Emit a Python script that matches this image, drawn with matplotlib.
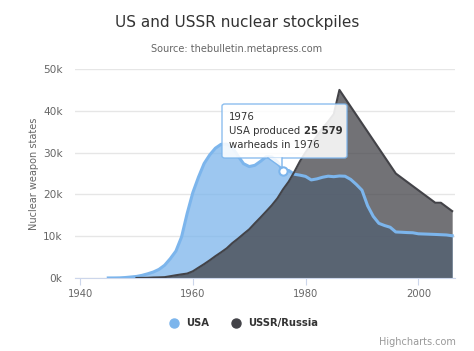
import numpy as np
import matplotlib
matplotlib.use("Agg")
import matplotlib.pyplot as plt
from matplotlib.lines import Line2D
from matplotlib.patches import FancyBboxPatch, Polygon

start_year = 1940
usa = [None, None, None, None, None, 6, 11, 32, 110, 235, 369, 640,
       1005, 1436, 2063, 3057, 4618, 6444, 9822, 15468, 20434, 24126,
       27387, 29459, 31056, 31982, 32040, 31233, 29224, 27342, 26662,
       26956, 27912, 28999, 28965, 27826, 25579, 25722, 24826, 24605,
       24304, 23464, 23708, 24099, 24357, 24237, 24401, 24344, 23586,
       22380, 21004, 17287, 14747, 13076, 12555, 12144, 11009, 10950,
       10871, 10824, 10577, 10527, 10475, 10421, 10358, 10295, 10104]
ussr = [None, None, None, None, None, None, None, None, None, None,
        5, 25, 50, 120, 150, 200, 426, 660, 869, 1060, 1605, 2471, 3322,
        4238, 5221, 6129, 7089, 8339, 9399, 10538, 11643, 13092, 14478,
        15915, 17385, 19055, 21205, 23044, 25393, 27935, 30062, 32049,
        33952, 35804, 37431, 39197, 45000, 43000, 41000, 39000, 37000,
        35000, 33000, 31000, 29000, 27000, 25000, 24000, 23000, 22000,
        21000, 20000, 19000, 18000, 18000, 17000, 16000]
series_names = ["USA", "USSR/Russia"]
colors = ["#7cb5ec", "#434348"]
y_ticks = [0, 10000, 20000, 30000, 40000, 50000]
y_labels = ["0k", "10k", "20k", "30k", "40k", "50k"]
x_ticks = [1940, 1960, 1980, 2000]
hover_year = 1976

W, H = 474, 351
fig = plt.figure(figsize=(W / 100, H / 100), dpi=100)
L, R, T, B = 75, 455, 69, 278
ax = fig.add_axes([L / W, 1 - B / H, (R - L) / W, (B - T) / H])

for data, c, name in zip([usa, ussr], colors, series_names):
    idx = [i for i, v in enumerate(data) if v is not None]
    xs = np.array([start_year + i for i in idx])
    ys = np.array([data[i] for i in idx], dtype=float)
    ax.fill_between(xs, 0, ys, color=c, alpha=0.75, linewidth=0, zorder=2)
    lw = 2.2 if name == "USA" else 1.5
    ax.plot(xs, ys, color=c, linewidth=lw, zorder=3)

ax.set_xlim(1939.1, 2006.5)
ax.set_ylim(0, 50000)
ax.set_yticks(y_ticks)
ax.set_yticklabels(y_labels)
ax.set_xticks(x_ticks)
ax.grid(axis="y", color="#e6e6e6", linewidth=1, zorder=0)
for s in ["top", "right", "left"]:
    ax.spines[s].set_visible(False)
ax.spines["bottom"].set_color("#ccd6eb")
ax.tick_params(axis="y", length=0, labelsize=7.6, labelcolor="#666666", pad=9)
ax.tick_params(axis="x", length=5, color="#ccd6eb", labelsize=7.2, labelcolor="#666666", pad=3)
ax.set_ylabel("Nuclear weapon states", fontsize=7, color="#666666", labelpad=3)

# hover marker
hv = usa[hover_year - start_year]
ax.plot([hover_year], [hv], marker="o", markersize=6, markerfacecolor="white",
        markeredgecolor=colors[0], markeredgewidth=1.5, zorder=6, clip_on=False)

# tooltip (in figure pixel coordinates)
bx0, bx1, by0, by1 = 222, 347, 104, 158
def fx(px):
    return px / W
def fy(py):
    return 1 - py / H
box = FancyBboxPatch((fx(bx0), fy(by1)), fx(bx1) - fx(bx0), fy(by0) - fy(by1),
                     boxstyle="round,pad=0,rounding_size=0.006",
                     transform=fig.transFigure, facecolor="white", alpha=0.88,
                     edgecolor=colors[0], linewidth=1, zorder=10)
fig.add_artist(box)
tip = Polygon([(fx(268), fy(by1 - 0.5)), (fx(282), fy(by1 + 10)), (fx(282), fy(by1 - 0.5))],
              closed=True, transform=fig.transFigure, facecolor="white", alpha=0.88,
              edgecolor="none", zorder=11)
fig.add_artist(tip)
fig.add_artist(Line2D([fx(268), fx(282), fx(282)], [fy(by1), fy(by1 + 10), fy(by1)],
                      transform=fig.transFigure, color=colors[0], linewidth=1, zorder=12))
tfs = 7.3
fig.text(fx(229), fy(117), "1976", fontsize=tfs, color="#333333", va="center", zorder=13)
t1 = fig.text(fx(229), fy(131), "USA produced", fontsize=tfs, color="#333333",
              va="center", zorder=13)
renderer = fig.canvas.get_renderer()
ext = t1.get_window_extent(renderer=renderer)
fig.text(fx(ext.x1 + 4), fy(131), "25 579", fontsize=tfs, color="#333333", va="center",
         fontweight="bold", zorder=13)
fig.text(fx(229), fy(145), "warheads in 1976", fontsize=tfs, color="#333333", va="center", zorder=13)

fig.text(0.5, fy(22), "US and USSR nuclear stockpiles", ha="center", va="center",
         fontsize=11, color="#333333")
fig.text(0.5, fy(49), "Source: thebulletin.metapress.com", ha="center", va="center",
         fontsize=7, color="#666666")

handles = [Line2D([], [], marker="o", linestyle="none", markersize=6.5,
                  markerfacecolor=c, markeredgecolor=c) for c in colors]
fig.legend(handles, series_names, loc="center", bbox_to_anchor=(fx(241), fy(323)),
           ncol=2, frameon=False, prop={"weight": "bold", "size": 7.2},
           handletextpad=0.3, columnspacing=1.6, labelcolor="#333333")
fig.text(fx(456), fy(342), "Highcharts.com", ha="right", va="center",
         fontsize=7, color="#999999")

fig.savefig("out.png", dpi=100, facecolor="white")
